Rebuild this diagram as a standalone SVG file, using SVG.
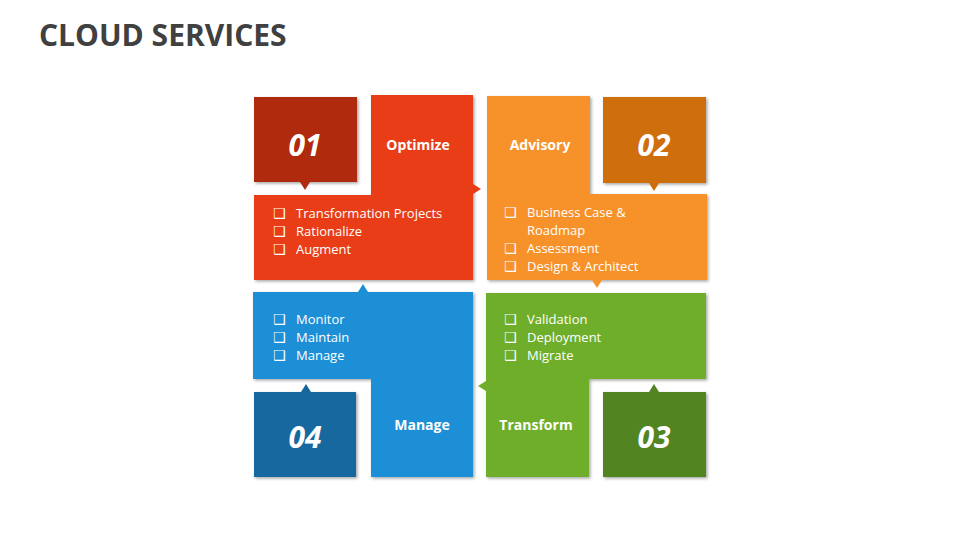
<svg xmlns="http://www.w3.org/2000/svg" width="960" height="540" viewBox="0 0 960 540">
<defs>
<filter id="sh" x="-10%" y="-10%" width="125%" height="125%">
<feDropShadow dx="1.5" dy="1.5" stdDeviation="1.5" flood-color="#000" flood-opacity="0.35"/>
</filter>
<style>
.title{font-family:"Open Sans","Liberation Sans",sans-serif;font-weight:bold;font-size:30px;fill:#404040}
.head{font-family:"Open Sans","Liberation Sans",sans-serif;font-weight:bold;font-size:14px;fill:#fff;text-anchor:middle}
.num{font-family:"Open Sans","Liberation Sans",sans-serif;font-weight:bold;font-style:italic;font-size:30px;fill:#fff;text-anchor:middle}
.item{font-family:"Open Sans","Liberation Sans",sans-serif;font-size:13px;fill:#fff}
.chk{font-family:"DejaVu Sans",sans-serif;font-size:14px;fill:#fff}
</style>
</defs>
<rect width="960" height="540" fill="#fff"/>
<text class="title" x="39" y="46">CLOUD SERVICES</text>

<g id="optimize">
<path d="M371,95 H473 V280 H254 V195 H371 Z" fill="#E83C16" filter="url(#sh)"/>
<polygon points="473,184 481,189 473,194" fill="#E83C16"/>
<text class="head" x="418" y="150">Optimize</text>
<text class="chk" x="273" y="218">❑</text><text class="item" x="296" y="218">Transformation Projects</text>
<text class="chk" x="273" y="236">❑</text><text class="item" x="296" y="236">Rationalize</text>
<text class="chk" x="273" y="254">❑</text><text class="item" x="296" y="254">Augment</text>
</g>
<g id="box01">
<rect x="254" y="97" width="103" height="85" fill="#B02B0F" filter="url(#sh)"/>
<polygon points="300,182 310,182 305,190" fill="#B02B0F"/>
<text class="num" x="305" y="156">01</text>
</g>

<g id="advisory">
<path d="M487,96 H590 V194 H707 V280 H487 Z" fill="#F7922A" filter="url(#sh)"/>
<polygon points="592,280 602,280 597,288" fill="#F7922A"/>
<text class="head" x="540" y="150">Advisory</text>
<text class="chk" x="504" y="217">❑</text><text class="item" x="527" y="217">Business Case &amp;</text>
<text class="item" x="527" y="235">Roadmap</text>
<text class="chk" x="504" y="253">❑</text><text class="item" x="527" y="253">Assessment</text>
<text class="chk" x="504" y="271">❑</text><text class="item" x="527" y="271">Design &amp; Architect</text>
</g>
<g id="box02">
<rect x="603" y="97" width="103" height="86" fill="#CF6E08" filter="url(#sh)"/>
<polygon points="649,183 659,183 654,191" fill="#CF6E08"/>
<text class="num" x="654" y="156">02</text>
</g>

<g id="transform">
<path d="M486,293 H706 V379 H589 V477 H486 Z" fill="#6EAE2A" filter="url(#sh)"/>
<polygon points="486,381 478,386 486,391" fill="#6EAE2A"/>
<text class="head" x="536" y="430">Transform</text>
<text class="chk" x="504" y="324">❑</text><text class="item" x="527" y="324">Validation</text>
<text class="chk" x="504" y="342">❑</text><text class="item" x="527" y="342">Deployment</text>
<text class="chk" x="504" y="360">❑</text><text class="item" x="527" y="360">Migrate</text>
</g>
<g id="box03">
<rect x="603" y="392" width="103" height="85" fill="#538421" filter="url(#sh)"/>
<polygon points="649,392 659,392 654,384" fill="#538421"/>
<text class="num" x="654" y="448">03</text>
</g>

<g id="manage">
<path d="M253,292 H473 V477 H371 V379 H253 Z" fill="#1A8FD6" filter="url(#sh)"/>
<polygon points="358,292 368,292 363,284" fill="#1A8FD6"/>
<text class="head" x="422" y="430">Manage</text>
<text class="chk" x="273" y="324">❑</text><text class="item" x="296" y="324">Monitor</text>
<text class="chk" x="273" y="342">❑</text><text class="item" x="296" y="342">Maintain</text>
<text class="chk" x="273" y="360">❑</text><text class="item" x="296" y="360">Manage</text>
</g>
<g id="box04">
<rect x="254" y="392" width="102" height="85" fill="#13679E" filter="url(#sh)"/>
<polygon points="301,392 311,392 306,384" fill="#13679E"/>
<text class="num" x="305" y="448">04</text>
</g>
<g id="connectors"></g>
</svg>
